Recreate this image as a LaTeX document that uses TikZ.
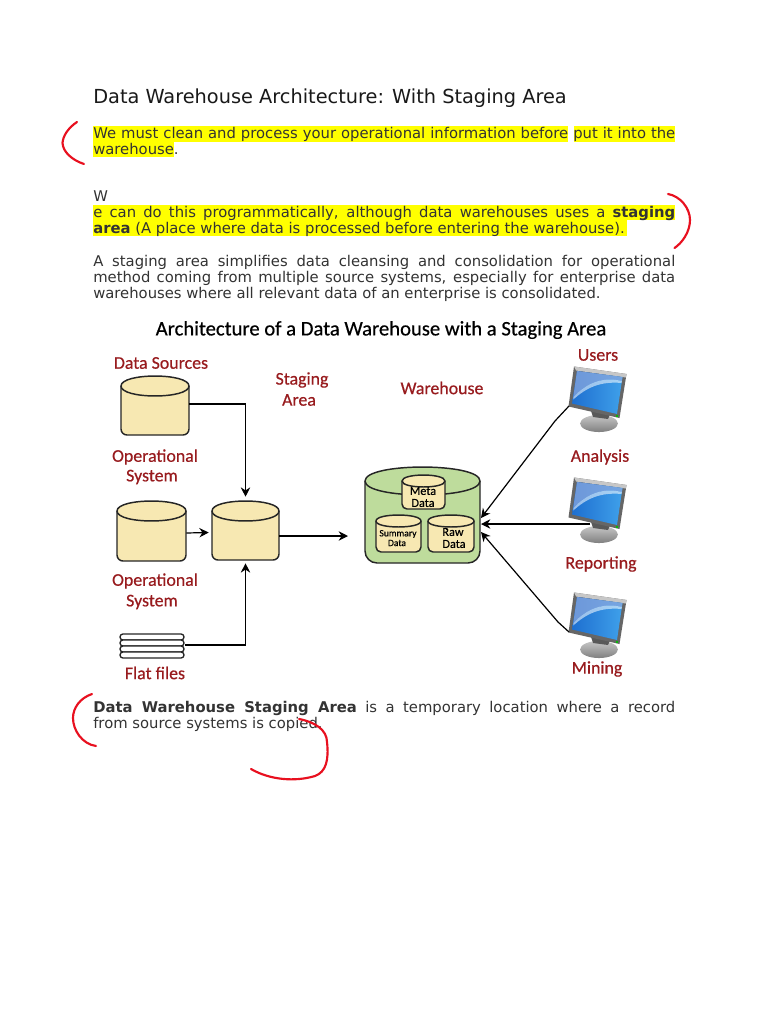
\documentclass[tikz,border=0pt]{standalone}
\usepackage{fontspec}
\setmainfont{DejaVu Sans}
\newfontfamily\lab{Carlito}
\newfontfamily\labb[RawFeature={embolden=0.5}]{Carlito}
\usetikzlibrary{arrows.meta,calc}
\definecolor{labred}{HTML}{981B1E}
\definecolor{bodygray}{HTML}{333333}
\definecolor{cream}{HTML}{F7E8B2}
\definecolor{wgreen}{HTML}{BEDC9C}
\definecolor{mark}{HTML}{FFFF00}
\definecolor{pen}{HTML}{E8101F}
\definecolor{scrA}{HTML}{1E6FD0}
\definecolor{scrB}{HTML}{3FA0EA}
\tikzset{
 body/.style={anchor=base west,inner sep=0pt,text=bodygray,font=\fontsize{11.1}{13}\selectfont},
 titletext/.style={anchor=base west,inner sep=0pt,text=black!90,font=\fontsize{14.5}{17}\selectfont},
 figtitle/.style={anchor=center,inner sep=0pt,text=black,font=\labb\fontsize{15.5}{18}\selectfont},
 redlabel/.style={anchor=center,inner sep=0pt,text=labred,font=\labb\fontsize{13.4}{16}\selectfont},
 dblabel/.style={anchor=center,inner sep=0pt,text=black,font=\labb\fontsize{9.2}{11}\selectfont},
 smalllabel/.style={anchor=center,inner sep=0pt,text=black,font=\labb\fontsize{7.2}{9}\selectfont},
 hl/.style={fill=mark,draw=none},
 redpen/.style={draw=pen,line width=1.6pt,line cap=round,line join=round},
 conn/.style={draw=black,line width=0.9pt,-{Stealth[length=7pt,width=7pt]}},
 dbline/.style={draw=black!85,line width=1.1pt,line join=round},
 flatbar/.style={draw=black!85,line width=1pt,fill=white,rounded corners=2.2pt},
}
\newcommand{\just}[1]{\makebox[436.5pt][s]{#1}}
\def\crad{6}
% name, x1, x2, ytop, ybot, ry, fill
\newcommand{\dbcyl}[7]{%
 \pgfmathsetmacro{\yc}{#4+#6}\pgfmathsetmacro{\ctl}{1.33*#6}%
 \pgfmathsetmacro{\yup}{\yc-\ctl}\pgfmathsetmacro{\ydn}{\yc+\ctl}%
 \pgfmathsetmacro{\xa}{#2+\crad}\pgfmathsetmacro{\xb}{#3-\crad}\pgfmathsetmacro{\yb}{#5-\crad}%
 \pgfmathsetmacro{\kk}{0.45*\crad}%
 \path[dbline,fill=#7] (#2,\yc) -- (#2,\yb) .. controls (#2,#5-\kk) and (#2+\kk,#5) .. (\xa,#5) -- (\xb,#5)
   .. controls (#3-\kk,#5) and (#3,#5-\kk) .. (#3,\yb) -- (#3,\yc)
   .. controls (#3,\yup) and (#2,\yup) .. (#2,\yc) -- cycle;
 \path[dbline] (#2,\yc) .. controls (#2,\ydn) and (#3,\ydn) .. (#3,\yc);
 \pgfmathsetlengthmacro{\nw}{0.75pt*(#3-#2)}\pgfmathsetlengthmacro{\nh}{0.75pt*(#5-#4)}%
 \node[inner sep=0pt,minimum width=\nw,minimum height=\nh] (#1) at ({(#2+#3)/2},{(#4+#5)/2}) {};
}
% monitor: name, y offset
\newcommand{\monitor}[2]{%
 \begin{scope}[yshift=-0.75pt*#2]
  \shade[top color=black!22,bottom color=black!50,draw=none] (599,423.5) ellipse [x radius=14.2pt,y radius=6.4pt];
  \fill[black!65] (590,408) -- (611,412) -- (608,419) -- (593,417) -- cycle;
  \fill[black!60] (574,366.5) -- (626.5,374) -- (619.5,418) -- (568.5,406.5) -- cycle;
  \fill[black!22] (574,366.5) -- (626.5,374) -- (625.8,377.5) -- (576,370.5) -- cycle;
  \shade[left color=scrA,right color=scrB] (577,371) -- (622.5,377) -- (617,414) -- (572,403.5) -- cycle;
  \fill[cyan!45!blue!45!white,opacity=.7] (577,371) -- (622.5,377) -- (621.8,381) .. controls (600,376) and (585,385) .. (573.3,397) -- cycle;
  \fill[white,opacity=.55] (573.3,399.5) .. controls (586,388) and (600,381) .. (621.6,383) -- (621.8,381) .. controls (600,376) and (585,385) .. (573.5,397) -- cycle;
  \fill[green!75!black] (617,416) circle [radius=1pt];
 \end{scope}
 \coordinate (#1) at (569,{406+#2});
}
\begin{document}
\begin{tikzpicture}[x=0.75pt,y=-0.75pt]
\useasboundingbox (0,0) rectangle (768,1024);
\fill[white] (0,0) rectangle (768,1024);
% highlights
\fill[hl] (93,126) rectangle (568,142);
\fill[hl] (574,126) rectangle (675,142);
\fill[hl] (93,142) rectangle (174,157);
\fill[hl] (93,205) rectangle (675,220);
\fill[hl] (93,220) rectangle (627,236);
% text
\node[titletext] (t0) at (93,103.5) {Data Warehouse Architecture: With Staging Area};
\node[body] (t1) at (93,138) {\just{We must clean and process your operational information before put it into the}};
\node[body] (t2) at (93,154) {warehouse.};
\node[body] (t3) at (93,201) {W};
\node[body] (t4) at (93,217) {\just{e can do this programmatically, although data warehouses uses a \textbf{staging}}};
\node[body] (t5) at (93,233) {\textbf{area} (A place where data is processed before entering the warehouse).};
\node[body] (t6) at (93,266) {\just{A staging area simplifies data cleansing and consolidation for operational}};
\node[body] (t7) at (93,282) {\just{method coming from multiple source systems, especially for enterprise data}};
\node[body] (t8) at (93,298) {warehouses where all relevant data of an enterprise is consolidated.};
\node[body] (t9) at (93,712) {\just{\textbf{Data Warehouse Staging Area} is a temporary location where a record}};
\node[body] (t10) at (93,728) {from source systems is copied.};
% figure title
\node[figtitle] (ft) at (381,330) {Architecture of a Data Warehouse with a Staging Area};
% labels
\node[redlabel] (l1) at (161,363) {Data Sources};
\node[redlabel] (l2) at (302,380) {Staging};
\node[redlabel] (l3) at (299,400) {Area};
\node[redlabel] (l4) at (442,388) {Warehouse};
\node[redlabel] (l5) at (598,355) {Users};
\node[redlabel] (l6) at (600,457) {Analysis};
\node[redlabel] (l7) at (601,564) {Reporting};
\node[redlabel] (l8) at (597,669) {Mining};
\node[redlabel] (l9) at (155,457) {Operational};
\node[redlabel] (l10) at (152,477) {System};
\node[redlabel] (l11) at (155,581) {Operational};
\node[redlabel] (l12) at (152,602) {System};
\node[redlabel] (l13) at (155,673) {Flat files};
% databases
\dbcyl{src}{121}{189}{376}{435}{10}{cream}
\dbcyl{ops}{117}{186}{501}{561}{10}{cream}
\dbcyl{stg}{212}{279}{501}{560}{10}{cream}
\def\crad{12}
\dbcyl{wh}{365}{480}{467}{563}{14}{wgreen}
\def\crad{5}
\dbcyl{meta}{402}{445}{475}{509}{6}{cream}
\dbcyl{sum}{376}{421}{515}{552}{6}{cream}
\dbcyl{raw}{428}{474}{515}{552}{6}{cream}
\node[dblabel] (d1) at (423,491) {Meta};
\node[dblabel] (d2) at (423,503) {Data};
\node[smalllabel] (d3) at (398,534) {Summary};
\node[smalllabel] (d4) at (397,543) {Data};
\node[dblabel] (d5) at (453,532) {Raw};
\node[dblabel] (d6) at (454,544) {Data};
% flat files
\draw[flatbar] (120,634) rectangle (184,640);
\draw[flatbar] (120,640) rectangle (184,646);
\draw[flatbar] (120,646) rectangle (184,652);
\draw[flatbar] (120,652) rectangle (184,658);
\node[inner sep=0pt,minimum width=48pt,minimum height=18pt] (flat) at (152,646) {};
% monitors
\monitor{m1}{0}
\monitor{m2}{111}
\monitor{m3}{226}
\coordinate (w1) at (481,518);
\coordinate (w2) at (481,524);
\coordinate (w3) at (481,532);
\coordinate (m2b) at (590,524);
\coordinate (stgin) at (348,536);
% connectors
\draw[conn] ($(src.east)+(0,-1.5)$) -| ($(stg.north)+(0,-4)$);
\draw[conn] ($(ops.east)+(0,2)$) -- ($(stg.west)+(-3,2)$);
\draw[conn] (flat.east) ++(1,-1) -| ($(stg.south)+(0,3)$);
\draw[conn] (stg.east) ++(0,5.5) -- (stgin);
\draw[conn] (m1) -- ++(-14,15) -- (w1);
\draw[conn] (m2b) -- (w2);
\draw[conn] (m3) -- ++(-11,-10) -- (w3);
% red marks
\draw[redpen] (77,122) .. controls (68,128) and (63,136) .. (62.5,143) .. controls (63,152) and (72,160) .. (84,164);
\draw[redpen] (668,194) .. controls (680,196) and (690,208) .. (690,220) .. controls (690,232) and (682,243) .. (674.5,248);
\draw[redpen] (92,694) .. controls (80,698) and (73,708) .. (73,718) .. controls (73,730) and (82,744) .. (96,746);
\draw[redpen] (299,719) .. controls (315,722) and (327,730) .. (327,742) .. controls (329,760) and (326,772) .. (315,776) .. controls (295,782) and (270,780) .. (251,769);
\end{tikzpicture}
\end{document}
